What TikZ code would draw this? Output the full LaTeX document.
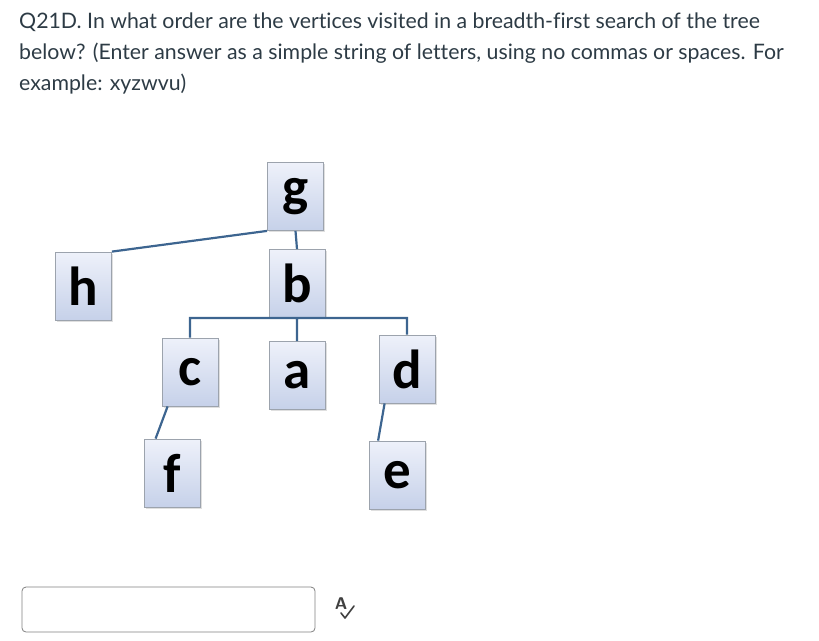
\documentclass[tikz,border=0pt]{standalone}
\usepackage{fontspec}
\setmainfont{Lato}[Ligatures=NoCommon]
\newfontfamily\boxfont{Carlito}[BoldFont={Carlito Bold}]
\usetikzlibrary{positioning,shadows}
\definecolor{edgeblue}{HTML}{3D6590}
\definecolor{boxtop}{HTML}{EEF1FA}
\definecolor{boxbot}{HTML}{C6D1E9}
\definecolor{boxline}{HTML}{9CA3AD}
\definecolor{qtext}{HTML}{2D3B45}
\tikzset{
    vertex/.style={draw=boxline, line width=0.8pt, top color=boxtop, bottom color=boxbot,
        minimum width=56, minimum height=68, inner sep=0pt, font=\boxfont\bfseries\fontsize{55}{55}\selectfont,
        drop shadow={opacity=0.25, shadow xshift=1.5pt, shadow yshift=-1.5pt}},
    branch/.style={draw=edgeblue, line width=2.2pt},
    qline/.style={anchor=base west, text=qtext, inner sep=0pt, font=\fontsize{21.3}{31}\selectfont}
}

\begin{document}
\begin{tikzpicture}[x=1pt, y=-1pt]
                        \useasboundingbox (0, 0) rectangle (819, 640);

                        \node[qline] (line1) at (19, 28)
                        {Q21D. In what order are the vertices visited in a breadth-first search of the tree};
                        \node[qline] (line2) at (19, 59)
                        {below? (Enter answer as a simple string of letters, using no commas or spaces. For};
                        \node[qline] (line3) at (19, 90)
                        {example: xyzwvu)};

                        \node[vertex] (g) at (295.5, 196.5) {g};
                        \node[vertex] (h) at (83.5, 286) {h};
                        \node[vertex] (b) at (297, 283.5) {b};
                        \node[vertex] (c) at (190, 372) {c};
                        \node[vertex] (a) at (297, 375.5) {a};
                        \node[vertex] (d) at (407, 369) {d};
                        \node[vertex] (f) at (172, 473) {f};
                        \node[vertex] (e) at (397.5, 475) {e};

                        \draw[branch]
                        (g.south west) -- (h.north east)
                        (g.south) -- (b.north)
                        (c.north) |- (b.south) -| (d.north)
                        (b.south) -- (a.north)
                        ([xshift=6]c.south west) -- ([xshift=12]f.north west)
                        ([xshift=6]d.south west) -- ([xshift=9]e.north west);

                        % answer field
                        \draw[draw=black!50, line width=0.8pt, rounded corners=4]
                        (22, 587) rectangle (315, 632);
                        \node[font=\sffamily\bfseries\fontsize{17}{17}\selectfont, text=black!75, inner sep=0pt]
                        (spell) at (341, 604) {A};
                        \draw[black!75, line width=1.6pt, line cap=round, line join=round]
                        (341, 613) -- (345, 618) -- (354, 606);
                    \end{tikzpicture}
\end{document}
